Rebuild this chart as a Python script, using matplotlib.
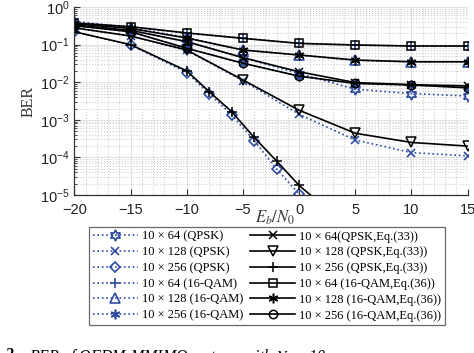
import numpy as np
import matplotlib
matplotlib.use("Agg")
import matplotlib.pyplot as plt
from matplotlib.ticker import MultipleLocator, LogLocator, FixedLocator, NullFormatter

plt.rcParams['font.family'] = ['Liberation Sans', 'DejaVu Sans']
plt.rcParams['mathtext.fontset'] = 'custom'
plt.rcParams['mathtext.rm'] = 'Liberation Sans'
plt.rcParams['mathtext.it'] = 'Liberation Sans:italic'

# ---- data ----
snr = [-20, -15, -10, -5, 0, 5, 10, 15]
snr_steep = [-20, -15, -10, -8, -6, -4, -2, 0, 2]

# simulation (blue dotted)
qpsk64_sim = [0.34, 0.24, 0.12, 0.045, 0.017, 0.0065, 0.005, 0.0043]
qpsk128_sim = [0.28, 0.17, 0.07, 0.011, 1.4e-3, 2.9e-4, 1.34e-4, 1.1e-4]
qpsk256_sim = [0.22, 0.098, 0.018, 5.0e-3, 1.35e-3, 2.8e-4, 4.9e-5, 1.07e-5, 1.5e-6]
qam64_sim = [0.38, 0.30, 0.20, 0.15, 0.108, 0.098, 0.092, 0.092]
qam128_sim = [0.42, 0.28, 0.155, 0.072, 0.053, 0.038, 0.035, 0.035]
qam256_sim = [0.32, 0.22, 0.08, 0.032, 0.0145, 0.0092, 0.0083, 0.0072]

# theory (black solid)
qpsk64_th = [0.33, 0.24, 0.12, 0.045, 0.019, 0.0098, 0.0086, 0.008]
qpsk128_th = [0.28, 0.17, 0.072, 0.0115, 1.8e-3, 4.4e-4, 2.5e-4, 2.0e-4]
qpsk256_th = [0.22, 0.10, 0.020, 5.6e-3, 1.65e-3, 3.4e-4, 8.0e-5, 1.8e-5, 5.6e-6]
qam64_th = [0.38, 0.30, 0.205, 0.147, 0.108, 0.098, 0.092, 0.092]
qam128_th = [0.36, 0.27, 0.15, 0.072, 0.053, 0.039, 0.035, 0.035]
qam256_th = [0.32, 0.22, 0.08, 0.032, 0.0145, 0.0093, 0.0085, 0.0071]

sim_labels = ['10 × 64 (QPSK)', '10 × 128 (QPSK)', '10 × 256 (QPSK)',
              '10 × 64 (16-QAM)', '10 × 128 (16-QAM)', '10 × 256 (16-QAM)']
th_labels = ['10 × 64(QPSK,Eq.(33))', '10 × 128 (QPSK,Eq.(33))', '10 × 256 (QPSK,Eq.(33))',
             '10 × 64 (16-QAM,Eq.(36))', '10 × 128 (16-QAM,Eq.(36))', '10 × 256 (16-QAM,Eq.(36))']

blue = '#2f4b9e'
hexagram = (6, 1, 0)
asterisk = (6, 2, 0)

fig = plt.figure(figsize=(4.74, 3.53), dpi=100)
ax = fig.add_axes([0.157, 0.4476, 0.8295, 0.5324])

sims = [(snr, qpsk64_sim, hexagram), (snr, qpsk128_sim, 'x'), (snr_steep, qpsk256_sim, 'D'),
        (snr, qam64_sim, '+'), (snr, qam128_sim, '^'), (snr, qam256_sim, asterisk)]
ths = [(snr, qpsk64_th, 'x'), (snr, qpsk128_th, 'v'), (snr_steep, qpsk256_th, '+'),
       (snr, qam64_th, 's'), (snr, qam128_th, asterisk), (snr, qam256_th, 'o')]

msize = {hexagram: 8, 'x': 6, 'D': 5, '+': 7, '^': 6.5, asterisk: 7, 'v': 6.5, 's': 6, 'o': 6}

handles = []
for (x, y, m), lab in zip(sims, sim_labels):
    h, = ax.semilogy(x, y, linestyle=':', color=blue, marker=m, markersize=msize[m],
                     markerfacecolor='none', markeredgecolor=blue, markeredgewidth=1.2,
                     linewidth=1.2, label=lab)
    handles.append(h)
for (x, y, m), lab in zip(ths, th_labels):
    h, = ax.semilogy(x, y, linestyle='-', color='black', marker=m, markersize=msize[m],
                     markerfacecolor='none', markeredgecolor='black', markeredgewidth=1.1,
                     linewidth=1.2, label=lab)
    handles.append(h)

ax.set_xlim(-20, 15)
ax.set_ylim(1e-5, 1)
ax.xaxis.set_major_locator(FixedLocator(snr))
ax.xaxis.set_minor_locator(MultipleLocator(1))
ax.yaxis.set_major_locator(LogLocator(base=10, numticks=10))
ax.yaxis.set_minor_locator(LogLocator(base=10, subs=np.arange(2, 10), numticks=20))
ax.yaxis.set_minor_formatter(NullFormatter())

ax.grid(True, which='major', color='#e2e2e2', linestyle='-', linewidth=0.8)
ax.grid(True, which='minor', color='#cfcfcf', linestyle=':', linewidth=0.8)
ax.set_axisbelow(True)

for s in ['top', 'right']:
    ax.spines[s].set_visible(False)
for s in ['left', 'bottom']:
    ax.spines[s].set_color('#333333')
    ax.spines[s].set_linewidth(0.9)

ax.tick_params(which='both', direction='in', colors='#333333', labelsize=10.5, labelcolor='#222222')
ax.tick_params(which='major', length=4)
ax.tick_params(which='minor', length=2)
ax.tick_params(axis='x', which='minor', length=0)
ax.tick_params(axis='x', pad=6)

ax.set_ylabel('BER', family='Liberation Serif', fontsize=11.5, color='#333333', labelpad=2)
ax.set_xlabel('$E_b/N_0$', fontsize=12, color='#333333', math_fontfamily='stix')
ax.xaxis.set_label_coords((275 - 74.3) / 393.3, -0.075)

leg = fig.legend(handles=handles, ncol=2, loc='upper left',
                 bbox_to_anchor=(89 / 474, 1 - 227 / 353),
                 prop={'family': 'Liberation Serif', 'size': 9},
                 frameon=True, fancybox=False, edgecolor='#444444',
                 handlelength=3.6, handletextpad=0.3, columnspacing=0.6,
                 labelspacing=0.3, borderpad=0.3, borderaxespad=0.0)
leg.get_frame().set_linewidth(0.9)

fig.text(-24 / 474, 1 - 347 / 353, 'Fig. 2.', fontsize=11.5, family='Liberation Serif',
         fontweight='bold', va='top', ha='left')
fig.text(29 / 474, 1 - 347 / 353, 'BER of OFDM-MMIMO systems with $N_t$ = 10', fontsize=11.5,
         family='Liberation Serif', style='italic', va='top', ha='left', math_fontfamily='stix')

fig.savefig('out.png', dpi=100)
